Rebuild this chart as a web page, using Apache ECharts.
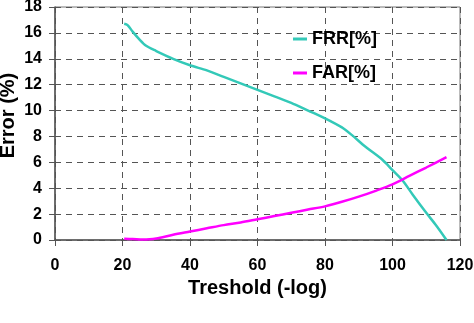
<!DOCTYPE html>
<html><head><meta charset="utf-8">
<script src="https://cdn.jsdelivr.net/npm/echarts@6/dist/echarts.min.js"></script>
<style>html,body{margin:0;padding:0;background:#fff}#c{width:474px;height:323px}</style>
</head><body><div id="c"></div>
<script>
const frrX = [20.5,21.5,23,25,27,30,35,40,45,50,55,60,65,70,75,80,85,88,92,97,100,103,106,110,113,116];
const frrY = [16.7,16.6,16.1,15.5,15.0,14.6,14.0,13.5,13.1,12.6,12.1,11.6,11.1,10.6,10.0,9.4,8.7,8.1,7.2,6.2,5.4,4.6,3.5,2.1,1.1,0];
const farX = [20.5,23,26,28,30,35,40,45,50,55,60,65,70,75,80,85,90,95,100,105,110,116];
const farY = [0.1,0.08,0.03,0.05,0.12,0.4,0.65,0.9,1.15,1.35,1.6,1.85,2.1,2.35,2.6,2.95,3.35,3.8,4.3,4.95,5.6,6.4];
const seriesNames = ['FRR[%]','FAR[%]'];
const xName = 'Treshold (-log)';
const yName = 'Error (%)';

const font = 'Liberation Sans, Arial, sans-serif';
const chart = echarts.init(document.getElementById('c'));
const pair = (xs, ys) => xs.map((x,i)=>[x, ys[i]]);
chart.setOption({
  animation:false,
  grid:{left:55,right:14,top:7,bottom:83,show:true,borderColor:'#777',borderWidth:1,
        containLabel:false,outerBoundsMode:'none'},
  legend:{
    orient:'vertical', left:288, top:25, itemGap:16,
    itemWidth:14, itemHeight:3, icon:'rect',
    textStyle:{fontFamily:font,fontWeight:'bold',fontSize:18,color:'#000'},
    data:seriesNames
  },
  xAxis:{
    type:'value', min:0, max:120, interval:20,
    name:xName, nameLocation:'middle', nameGap:38,
    nameTextStyle:{fontFamily:font,fontWeight:'bold',fontSize:20,color:'#000'},
    axisLine:{lineStyle:{color:'#555',width:1.5}},
    axisTick:{show:true,length:6,inside:false,lineStyle:{color:'#555'}},
    axisLabel:{fontFamily:font,fontWeight:'bold',fontSize:16,color:'#000',margin:18},
    splitLine:{lineStyle:{color:'#555',type:[6,5],width:1}}
  },
  yAxis:{
    type:'value', min:0, max:18, interval:2,
    name:yName, nameLocation:'middle', nameGap:37, nameRotate:90, nameMoveOverlap:false,
    nameTextStyle:{fontFamily:font,fontWeight:'bold',fontSize:20,color:'#000',padding:[0,0,0,16]},
    axisLine:{show:true,lineStyle:{color:'#555',width:1.5}},
    axisTick:{show:true,length:6,lineStyle:{color:'#555'}},
    axisLabel:{fontFamily:font,fontWeight:'bold',fontSize:16,color:'#000',margin:13},
    splitLine:{lineStyle:{color:'#555',type:[6,5],width:1}}
  },
  series:[
    {name:seriesNames[0],type:'line',data:pair(frrX,frrY),smooth:0.3,showSymbol:false,
     lineStyle:{color:'#33c9b8',width:2.5},itemStyle:{color:'#33c9b8'}},
    {name:seriesNames[1],type:'line',data:pair(farX,farY),smooth:0.3,showSymbol:false,
     lineStyle:{color:'#ff00ff',width:2.5},itemStyle:{color:'#ff00ff'}}
  ]
});
</script></body></html>
